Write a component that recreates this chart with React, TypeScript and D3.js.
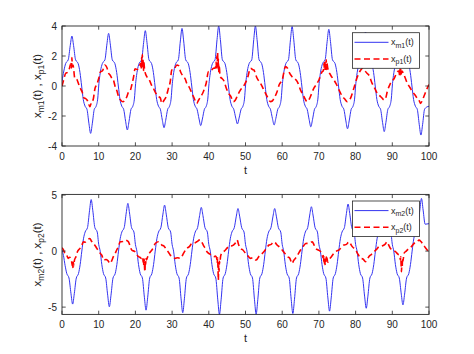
import React from 'react';
import * as d3 from 'd3';

type P = [number, number];

const X_TICKS = [0, 10, 20, 30, 40, 50, 60, 70, 80, 90, 100];
const TOP_Y_TICKS = [-4, -2, 0, 2, 4];
const BOT_Y_TICKS = [-5, 0, 5];

const XM1: P[] = [
  [0,0.3],[0.5,1.0],[1.0,1.5],[1.7,1.75],[2.25,2.7],[2.7,3.33],[3.15,2.7],[3.7,1.75],[4.4,1.5],[4.9,0.9],[5.35,0],[5.8,-0.9],[6.3,-1.35],[6.8,-1.55],[7.35,-2.52],[7.8,-3.16],[8.25,-2.52],[8.8,-1.55],[9.3,-1.35],[9.75,-0.8],
  [10,0],[10.5,1.0],[11,1.5],[11.7,1.75],[12.25,2.81],[12.7,3.51],[13.15,2.81],[13.7,1.75],[14.4,1.5],[14.9,0.9],[15.35,0],[15.8,-0.9],[16.3,-1.35],[16.8,-1.55],[17.35,-2.38],[17.8,-2.93],[18.25,-2.38],[18.8,-1.55],[19.3,-1.35],[19.75,-0.8],
  [20,0],[20.5,1.0],[21,1.5],[21.7,1.75],[22.25,2.91],[22.7,3.69],[23.15,2.91],[23.7,1.75],[24.4,1.5],[24.9,0.9],[25.35,0],[25.8,-0.9],[26.3,-1.35],[26.8,-1.55],[27.35,-2.29],[27.8,-2.78],[28.25,-2.29],[28.8,-1.55],[29.3,-1.35],[29.75,-0.8],
  [30,0],[30.5,1.0],[31,1.5],[31.7,1.75],[32.25,3.0],[32.7,3.84],[33.15,3.0],[33.7,1.75],[34.4,1.5],[34.9,0.9],[35.35,0],[35.8,-0.9],[36.3,-1.35],[36.8,-1.55],[37.35,-2.2],[37.8,-2.64],[38.25,-2.2],[38.8,-1.55],[39.3,-1.35],[39.75,-0.8],
  [40,0],[40.5,1.0],[41,1.5],[41.7,1.75],[42.25,3.1],[42.7,4.0],[43.15,3.1],[43.7,1.75],[44.4,1.5],[44.9,0.9],[45.35,0],[45.8,-0.9],[46.3,-1.35],[46.8,-1.55],[47.35,-2.14],[47.8,-2.53],[48.25,-2.14],[48.8,-1.55],[49.3,-1.35],[49.75,-0.8],
  [50,0],[50.5,1.0],[51,1.5],[51.7,1.75],[52.25,3.1],[52.7,4.0],[53.15,3.1],[53.7,1.75],[54.4,1.5],[54.9,0.9],[55.35,0],[55.8,-0.9],[56.3,-1.35],[56.8,-1.55],[57.35,-2.18],[57.8,-2.6],[58.25,-2.18],[58.8,-1.55],[59.3,-1.35],[59.75,-0.8],
  [60,0],[60.5,1.0],[61,1.5],[61.7,1.75],[62.25,3.08],[62.7,3.96],[63.15,3.08],[63.7,1.75],[64.4,1.5],[64.9,0.9],[65.35,0],[65.8,-0.9],[66.3,-1.35],[66.8,-1.55],[67.35,-2.25],[67.8,-2.72],[68.25,-2.25],[68.8,-1.55],[69.3,-1.35],[69.75,-0.8],
  [70,0],[70.5,1.0],[71,1.5],[71.7,1.75],[72.25,2.97],[72.7,3.78],[73.15,2.97],[73.7,1.75],[74.4,1.5],[74.9,0.9],[75.35,0],[75.8,-0.9],[76.3,-1.35],[76.8,-1.55],[77.35,-2.33],[77.8,-2.85],[78.25,-2.33],[78.8,-1.55],[79.3,-1.35],[79.75,-0.8],
  [80,0],[80.5,1.0],[81,1.5],[81.7,1.75],[82.25,2.86],[82.7,3.6],[83.15,2.86],[83.7,1.75],[84.4,1.5],[84.9,0.9],[85.35,0],[85.8,-0.9],[86.3,-1.35],[86.8,-1.55],[87.35,-2.44],[87.8,-3.04],[88.25,-2.44],[88.8,-1.55],[89.3,-1.35],[89.75,-0.8],
  [90,0],[90.5,1.0],[91,1.5],[91.7,1.75],[92.25,2.74],[92.7,3.4],[93.15,2.74],[93.7,1.75],[94.4,1.5],[94.9,0.9],[95.35,0],[95.8,-0.9],[96.3,-1.35],[96.8,-1.55],[97.35,-2.58],[97.8,-3.27],[98.25,-2.58],[98.8,-1.55],[99.4,-1.4],[100,-1.35],
];

const XP1: P[] = [
  [0,0],[0.5,0.45],[1.0,0.85],[1.5,0.9],[2.0,1.15],[2.4,1.5],[2.6,1.2],[2.7,1.9],[2.8,1.3],[3.0,1.4],[3.5,0.5],[4.0,0.45],[4.5,0.15],[5.0,-0.15],[5.5,-0.4],[6.0,-0.8],[6.5,-0.85],[7.0,-1.0],[7.6,-1.38],[8.0,-1.1],[8.5,-0.9],[9.0,-0.15],[9.5,0.1],
  [10,0.5],[10.5,0.95],[11,1.0],[11.7,1.4],[12.2,1.25],[12.7,0.85],[13.1,0.73],[13.6,0.5],[14.0,0.4],[14.5,-0.05],[15.0,-0.35],[15.4,-0.7],[16.0,-0.95],[16.6,-1.05],[17.2,-0.93],[17.6,-0.75],[18.1,-0.42],[18.6,-0.3],[19.0,0.05],[19.5,0.6],[19.9,1.15],
  [20.5,1.1],[21.0,1.3],[21.4,1.5],[21.6,1.1],[21.7,1.9],[21.8,1.3],[21.9,2.1],[22.0,1.2],[22.1,1.8],[22.2,1.0],[22.3,1.6],[22.5,1.1],[23.1,0.62],[23.6,0.5],[24.0,0.29],[24.5,0.0],[24.9,-0.16],[25.6,-0.5],[26.3,-0.7],[26.8,-0.8],[27.2,-1.16],[27.8,-0.95],[28.3,-0.75],[29.0,-0.16],[29.5,0.3],[29.9,1.07],
  [30.5,1.1],[31.3,1.4],[31.8,1.35],[32.3,0.95],[33.1,0.62],[33.6,0.45],[34.0,0.18],[34.7,-0.1],[35.4,-0.49],[36.0,-0.8],[36.7,-1.16],[37.2,-0.95],[37.8,-0.7],[38.3,-0.5],[38.8,-0.2],[39.3,0.2],[39.9,0.96],
  [40.5,1.0],[41.3,1.18],[41.8,1.2],[42.0,1.6],[42.1,1.1],[42.2,2.0],[42.3,1.3],[42.4,2.25],[42.5,1.2],[42.6,1.8],[42.7,0.9],[42.8,1.4],[43.1,0.62],[43.6,0.5],[44.1,0.35],[44.7,-0.1],[45.4,-0.49],[46.0,-0.7],[46.7,-1.04],[47.2,-0.95],[47.7,-0.7],[48.2,-0.45],[48.6,-0.27],[49.5,0],
  [50.5,0.5],[51.4,1.18],[51.9,1.1],[52.3,1.07],[52.7,0.8],[53.2,0.5],[54.1,0.18],[55.0,-0.27],[55.9,-0.7],[56.8,-1.04],[57.3,-1.0],[57.7,-0.85],[58.6,-0.38],[59.2,0.1],[60.0,0.4],[60.9,1.29],
  [61.4,1.2],[61.8,0.96],[62.7,0.62],[63.3,0.5],[64.1,0.29],[65.0,-0.27],[65.9,-0.7],[66.8,-1.04],[67.2,-0.95],[67.7,-0.7],[68.6,-0.16],[69.3,0.1],[70.0,0.4],[70.9,0.96],
  [71.2,1.0],[71.4,1.5],[71.5,1.1],[71.6,1.7],[71.7,1.0],[71.8,1.6],[71.9,1.2],[72.0,1.75],[72.1,1.1],[72.2,1.5],[72.4,1.2],[73.2,0.73],[74.1,0.4],[74.8,0.1],[75.5,-0.27],[76.4,-0.7],[77.0,-0.85],[77.7,-1.04],[78.2,-0.95],[78.6,-0.82],[79.5,-0.16],[80.5,0.62],
  [81.4,1.07],[82.0,1.2],[82.6,1.0],[83.1,0.85],[83.6,0.73],[84.5,0.18],[85.2,-0.15],[85.9,-0.49],[86.8,-0.7],[87.2,-0.8],[87.7,-0.93],[88.2,-0.8],[88.6,-0.4],[89.5,0.18],[90.5,0.5],[91.4,0.96],
  [91.8,1.0],[92.0,0.7],[92.1,1.15],[92.2,0.75],[92.3,1.1],[92.4,0.8],[92.6,1.0],[93.2,0.73],[94.1,0.18],[94.8,-0.1],[95.5,-0.38],[96.2,-0.6],[96.8,-0.82],[97.2,-0.9],[97.7,-1.16],[98.1,-1.0],[98.6,-0.7],[99.5,-0.16],[100,0.1],
];

const XM2: P[] = [
  [0,0.1],[0.4,-0.4],[0.85,-1.3],[1.3,-2.0],[1.9,-2.4],[2.45,-3.8],[2.9,-4.73],[3.35,-3.8],[3.9,-2.4],[4.5,-2.0],[4.95,-1.2],[5.4,0],[5.85,1.1],[6.3,1.7],[6.95,2.1],[7.5,3.6],[7.95,4.6],[8.4,3.6],[8.95,2.1],[9.6,1.7],
  [10,0.6],[10.4,0],[10.85,-1.2],[11.3,-2.0],[11.9,-2.4],[12.45,-3.94],[12.9,-4.97],[13.35,-3.94],[13.9,-2.4],[14.5,-2.0],[14.95,-1.2],[15.4,0],[15.85,1.1],[16.3,1.7],[16.95,2.1],[17.5,3.4],[17.95,4.26],[18.4,3.4],[18.95,2.1],[19.6,1.7],
  [20,0.6],[20.4,0],[20.85,-1.2],[21.3,-2.0],[21.9,-2.4],[22.45,-4.12],[22.9,-5.27],[23.35,-4.12],[23.9,-2.4],[24.5,-2.0],[24.95,-1.2],[25.4,0],[25.85,1.1],[26.3,1.7],[26.95,2.1],[27.5,3.3],[27.95,4.1],[28.4,3.3],[28.95,2.1],[29.6,1.7],
  [30,0.6],[30.4,0],[30.85,-1.2],[31.3,-2.0],[31.9,-2.4],[32.45,-4.26],[32.9,-5.5],[33.35,-4.26],[33.9,-2.4],[34.5,-2.0],[34.95,-1.2],[35.4,0],[35.85,1.1],[36.3,1.7],[36.95,2.1],[37.5,3.18],[37.95,3.9],[38.4,3.18],[38.95,2.1],[39.6,1.7],
  [40,0.6],[40.4,0],[40.85,-1.2],[41.3,-2.0],[41.9,-2.4],[42.45,-4.35],[42.9,-5.65],[43.35,-4.35],[43.9,-2.4],[44.5,-2.0],[44.95,-1.2],[45.4,0],[45.85,1.1],[46.3,1.7],[46.95,2.1],[47.5,3.12],[47.95,3.8],[48.4,3.12],[48.95,2.1],[49.6,1.7],
  [50,0.6],[50.4,0],[50.85,-1.2],[51.3,-2.0],[51.9,-2.4],[52.45,-4.34],[52.9,-5.63],[53.35,-4.34],[53.9,-2.4],[54.5,-2.0],[54.95,-1.2],[55.4,0],[55.85,1.1],[56.3,1.7],[56.95,2.1],[57.5,3.12],[57.95,3.8],[58.4,3.12],[58.95,2.1],[59.6,1.7],
  [60,0.6],[60.4,0],[60.85,-1.2],[61.3,-2.0],[61.9,-2.4],[62.45,-4.3],[62.9,-5.57],[63.35,-4.3],[63.9,-2.4],[64.5,-2.0],[64.95,-1.2],[65.4,0],[65.85,1.1],[66.3,1.7],[66.95,2.1],[67.5,3.22],[67.95,3.96],[68.4,3.22],[68.95,2.1],[69.6,1.7],
  [70,0.6],[70.4,0],[70.85,-1.2],[71.3,-2.0],[71.9,-2.4],[72.45,-4.18],[72.9,-5.36],[73.35,-4.18],[73.9,-2.4],[74.5,-2.0],[74.95,-1.2],[75.4,0],[75.85,1.1],[76.3,1.7],[76.95,2.1],[77.5,3.36],[77.95,4.2],[78.4,3.36],[78.95,2.1],[79.6,1.7],
  [80,0.6],[80.4,0],[80.85,-1.2],[81.3,-2.0],[81.9,-2.4],[82.45,-4.02],[82.9,-5.1],[83.35,-4.02],[83.9,-2.4],[84.5,-2.0],[84.95,-1.2],[85.4,0],[85.85,1.1],[86.3,1.7],[86.95,2.1],[87.5,3.51],[87.95,4.45],[88.4,3.51],[88.95,2.1],[89.6,1.7],
  [90,0.6],[90.4,0],[90.85,-1.2],[91.3,-2.0],[91.9,-2.4],[92.45,-3.84],[92.9,-4.8],[93.35,-3.84],[93.9,-2.4],[94.5,-2.0],[94.95,-1.2],[95.4,0],[95.85,1.1],[96.3,1.7],[96.95,2.1],[97.5,3.66],[97.95,4.7],[98.4,3.66],[98.95,2.4],[99.45,2.42],[100,2.45],
];

const XP2: P[] = [
  [0,0.3],[0.4,0.1],[0.8,-0.2],[1.2,-0.3],[1.7,-0.65],[2.1,-0.55],[2.6,-0.9],[2.8,-1.3],[2.9,-0.9],[3.0,-1.5],[3.1,-1.0],[3.2,-1.3],[3.4,-0.8],[3.8,-0.5],[4.2,-0.06],[4.9,0.24],[5.4,0.5],[5.8,0.83],[6.3,0.8],[6.9,1.0],[7.6,1.13],[8.0,0.9],[8.5,0.68],[9.0,0.5],[9.5,0.24],
  [10.4,-0.2],[10.9,-0.4],[11.3,-0.8],[12.0,-0.75],[12.5,-0.85],[13.1,-1.1],[13.5,-0.9],[14.0,-0.5],[14.5,-0.2],[14.9,0.1],[15.4,0.4],[15.8,0.83],[16.5,0.85],[17.2,0.98],[17.6,0.95],[18.1,0.83],[18.5,0.5],[19.0,0.1],[19.9,-0.06],
  [20.3,-0.25],[20.8,-0.5],[21.2,-0.55],[21.7,-0.65],[22.0,-0.5],[22.1,-1.0],[22.2,-0.6],[22.3,-1.3],[22.4,-0.7],[22.5,-1.5],[22.6,-1.85],[22.7,-0.9],[22.8,-1.2],[22.9,-0.6],[23.0,-0.8],[23.5,-0.36],[24.0,-0.1],[24.5,0.1],[25.0,0.4],[25.4,0.68],[26.3,0.83],[26.8,0.7],[27.2,0.54],[27.8,0.45],[28.3,0.2],[29.0,-0.1],[29.5,-0.36],
  [30.2,-0.5],[30.8,-0.65],[31.5,-0.6],[32.2,-0.65],[32.7,-0.45],[33.1,-0.2],[34.0,0.24],[34.7,0.4],[35.4,0.68],[36.0,0.7],[36.7,0.83],[37.6,1.0],[38.0,0.85],[38.5,0.54],[39.0,0.25],[39.5,-0.06],
  [40.2,-0.25],[40.7,-0.35],[41.3,-0.5],[41.8,-0.45],[42.2,-0.7],[42.3,-1.1],[42.4,-0.6],[42.5,-1.5],[42.6,-2.6],[42.7,-1.2],[42.8,-1.8],[42.9,-0.9],[43.0,-1.1],[43.2,-0.5],[43.5,-0.2],[44.2,0.0],[44.9,0.24],[45.5,0.45],[46.0,0.45],[46.7,0.54],[47.2,0.7],[47.7,1.0],[48.1,0.6],[48.6,0.24],[49.3,0.1],[49.9,-0.15],
  [50.6,-0.4],[51.4,-0.65],[52.0,-0.6],[52.7,-0.8],[53.1,-0.75],[53.6,-0.5],[54.3,-0.3],[55.0,-0.06],[55.7,0.25],[56.4,0.54],[57.0,0.6],[57.7,0.83],[58.1,0.75],[58.6,0.54],[59.3,0.35],[60.0,0.1],
  [60.7,-0.2],[61.4,-0.5],[62.0,-0.6],[62.7,-1.1],[63.1,-0.85],[63.6,-0.65],[64.3,-0.3],[65.0,0.1],[65.7,0.4],[66.4,0.68],[67.2,0.7],[68.2,0.83],[68.6,0.6],[69.1,0.24],[69.8,0.1],
  [70.5,-0.06],[70.9,-0.3],[71.1,-0.6],[71.2,-0.4],[71.3,-0.9],[71.4,-0.5],[71.5,-1.1],[71.6,-0.6],[71.7,-1.25],[71.8,-0.7],[71.9,-1.0],[72.0,-0.5],[72.1,-0.9],[72.2,-0.6],[72.4,-1.0],[72.7,-0.8],[73.4,-0.5],[74.1,-0.2],[74.8,0.0],[75.5,0.1],[76.2,0.35],[76.8,0.54],[77.5,0.6],[78.2,0.83],[78.6,0.65],[79.1,0.4],[80.0,0.1],
  [80.7,-0.3],[81.4,-0.65],[82.0,-0.7],[82.7,-0.95],[83.1,-0.8],[83.6,-0.5],[84.3,-0.3],[85.0,-0.06],[85.7,0.15],[86.4,0.4],[87.2,0.45],[88.0,0.6],[88.6,0.83],[89.0,0.55],[89.5,0.24],[90.2,0.1],
  [90.9,-0.06],[91.6,-0.3],[92.0,-0.4],[92.2,-0.8],[92.3,-0.5],[92.4,-1.2],[92.5,-1.85],[92.6,-0.9],[92.7,-1.4],[92.8,-0.6],[92.9,-0.9],[93.2,-0.2],[93.8,0.0],[94.5,0.24],[95.2,0.4],[95.9,0.68],[96.6,0.75],[97.3,0.98],[97.8,0.85],[98.2,0.68],[98.8,0.4],[99.5,0.1],[100,-0.1],
];

const FONT = 'Liberation Sans, Arial, Helvetica, sans-serif';
const AX = '#262626';
const BLUE = '#3333f0';
const RED = '#ff0000';

const LEFT = 62;
const RIGHT = 429;

interface PanelProps {
  id: string;
  top: number;
  bottom: number;
  yDomain: [number, number];
  yTicks: number[];
  blue: P[];
  red: P[];
  sub: string;
  legendTop: number;
}

function Sub({ base, sub, size, subSize }: { base: string; sub: string; size: number; subSize: number }) {
  return (
    <>
      <tspan fontSize={size}>{base}</tspan>
      <tspan fontSize={subSize} dy={size * 0.28}>{sub}</tspan>
      <tspan fontSize={size} dy={-size * 0.28}>(t)</tspan>
    </>
  );
}

function Panel({ id, top, bottom, yDomain, yTicks, blue, red, sub, legendTop }: PanelProps) {
  const x = d3.scaleLinear().domain([0, 100]).range([LEFT, RIGHT]);
  const y = d3.scaleLinear().domain(yDomain).range([bottom, top]);
  const line = d3
    .line<P>()
    .x((d) => x(d[0]))
    .y((d) => y(d[1]))
    .curve(d3.curveMonotoneX);
  const tl = 3.7;
  const midY = (top + bottom) / 2;
  const lx = 352.5;
  const lw = 67;
  const lh = 35.6;
  return (
    <g>
      <defs>
        <clipPath id={id}>
          <rect x={LEFT} y={top} width={RIGHT - LEFT} height={bottom - top} />
        </clipPath>
      </defs>
      <rect x={LEFT} y={top} width={RIGHT - LEFT} height={bottom - top} fill="#fff" />
      <g clipPath={`url(#${id})`}>
        <path d={line(blue) || ''} fill="none" stroke={BLUE} strokeWidth={1} />
        <path d={line(red) || ''} fill="none" stroke={RED} strokeWidth={1.6} strokeDasharray="6,3.5" />
      </g>
      {X_TICKS.map((t) => (
        <g key={'x' + t}>
          <line x1={x(t)} x2={x(t)} y1={bottom} y2={bottom - tl} stroke={AX} strokeWidth={0.8} />
          <line x1={x(t)} x2={x(t)} y1={top} y2={top + tl} stroke={AX} strokeWidth={0.8} />
          <text x={x(t)} y={bottom + 14} textAnchor="middle" fontSize={10} fill={AX} fontFamily={FONT}>
            {t}
          </text>
        </g>
      ))}
      {yTicks.map((v) => (
        <g key={'y' + v}>
          <line x1={LEFT} x2={LEFT + tl} y1={y(v)} y2={y(v)} stroke={AX} strokeWidth={0.8} />
          <line x1={RIGHT} x2={RIGHT - tl} y1={y(v)} y2={y(v)} stroke={AX} strokeWidth={0.8} />
          <text x={57} y={y(v) + 3.6} textAnchor="end" fontSize={10} fill={AX} fontFamily={FONT}>
            {v}
          </text>
        </g>
      ))}
      <rect x={LEFT} y={top} width={RIGHT - LEFT} height={bottom - top} fill="none" stroke={AX} strokeWidth={0.9} />
      <text x={(LEFT + RIGHT) / 2} y={bottom + 28} textAnchor="middle" fontSize={11} fill={AX} fontFamily={FONT}>
        t
      </text>
      <text
        transform={`translate(40.5, ${midY}) rotate(-90)`}
        textAnchor="middle"
        fill={AX}
        fontFamily={FONT}
        fontSize={11.5}
      >
        <Sub base="x" sub={'m' + sub} size={11.5} subSize={8.5} />
        <tspan fontSize={11.5}>{' , '}</tspan>
        <Sub base="x" sub={'p' + sub} size={11.5} subSize={8.5} />
      </text>
      <rect x={lx} y={legendTop} width={lw} height={lh} fill="#fff" stroke={AX} strokeWidth={0.8} />
      <line x1={354.5} x2={388.5} y1={legendTop + 9.6} y2={legendTop + 9.6} stroke={BLUE} strokeWidth={1} />
      <line
        x1={354.5}
        x2={388.5}
        y1={legendTop + 26.3}
        y2={legendTop + 26.3}
        stroke={RED}
        strokeWidth={1.6}
        strokeDasharray="6,3.5"
      />
      <text x={391} y={legendTop + 12.5} fontFamily={FONT} fill={AX} fontSize={9}>
        <Sub base="x" sub={'m' + sub} size={9} subSize={7} />
      </text>
      <text x={391} y={legendTop + 29.2} fontFamily={FONT} fill={AX} fontSize={9}>
        <Sub base="x" sub={'p' + sub} size={9} subSize={7} />
      </text>
    </g>
  );
}

export default function App() {
  return (
    <svg
      width={474}
      height={354}
      viewBox="0 0 474 354"
      style={{ position: 'absolute', left: 0, top: 0, background: '#fff' }}
    >
      <rect x={0} y={0} width={474} height={354} fill="#fff" />
      <Panel
        id="clipTop"
        top={26}
        bottom={146}
        yDomain={[-4, 4]}
        yTicks={TOP_Y_TICKS}
        blue={XM1}
        red={XP1}
        sub="1"
        legendTop={32.7}
      />
      <Panel
        id="clipBot"
        top={194.4}
        bottom={314.4}
        yDomain={[-5.65, 5.06]}
        yTicks={BOT_Y_TICKS}
        blue={XM2}
        red={XP2}
        sub="2"
        legendTop={201}
      />
    </svg>
  );
}
